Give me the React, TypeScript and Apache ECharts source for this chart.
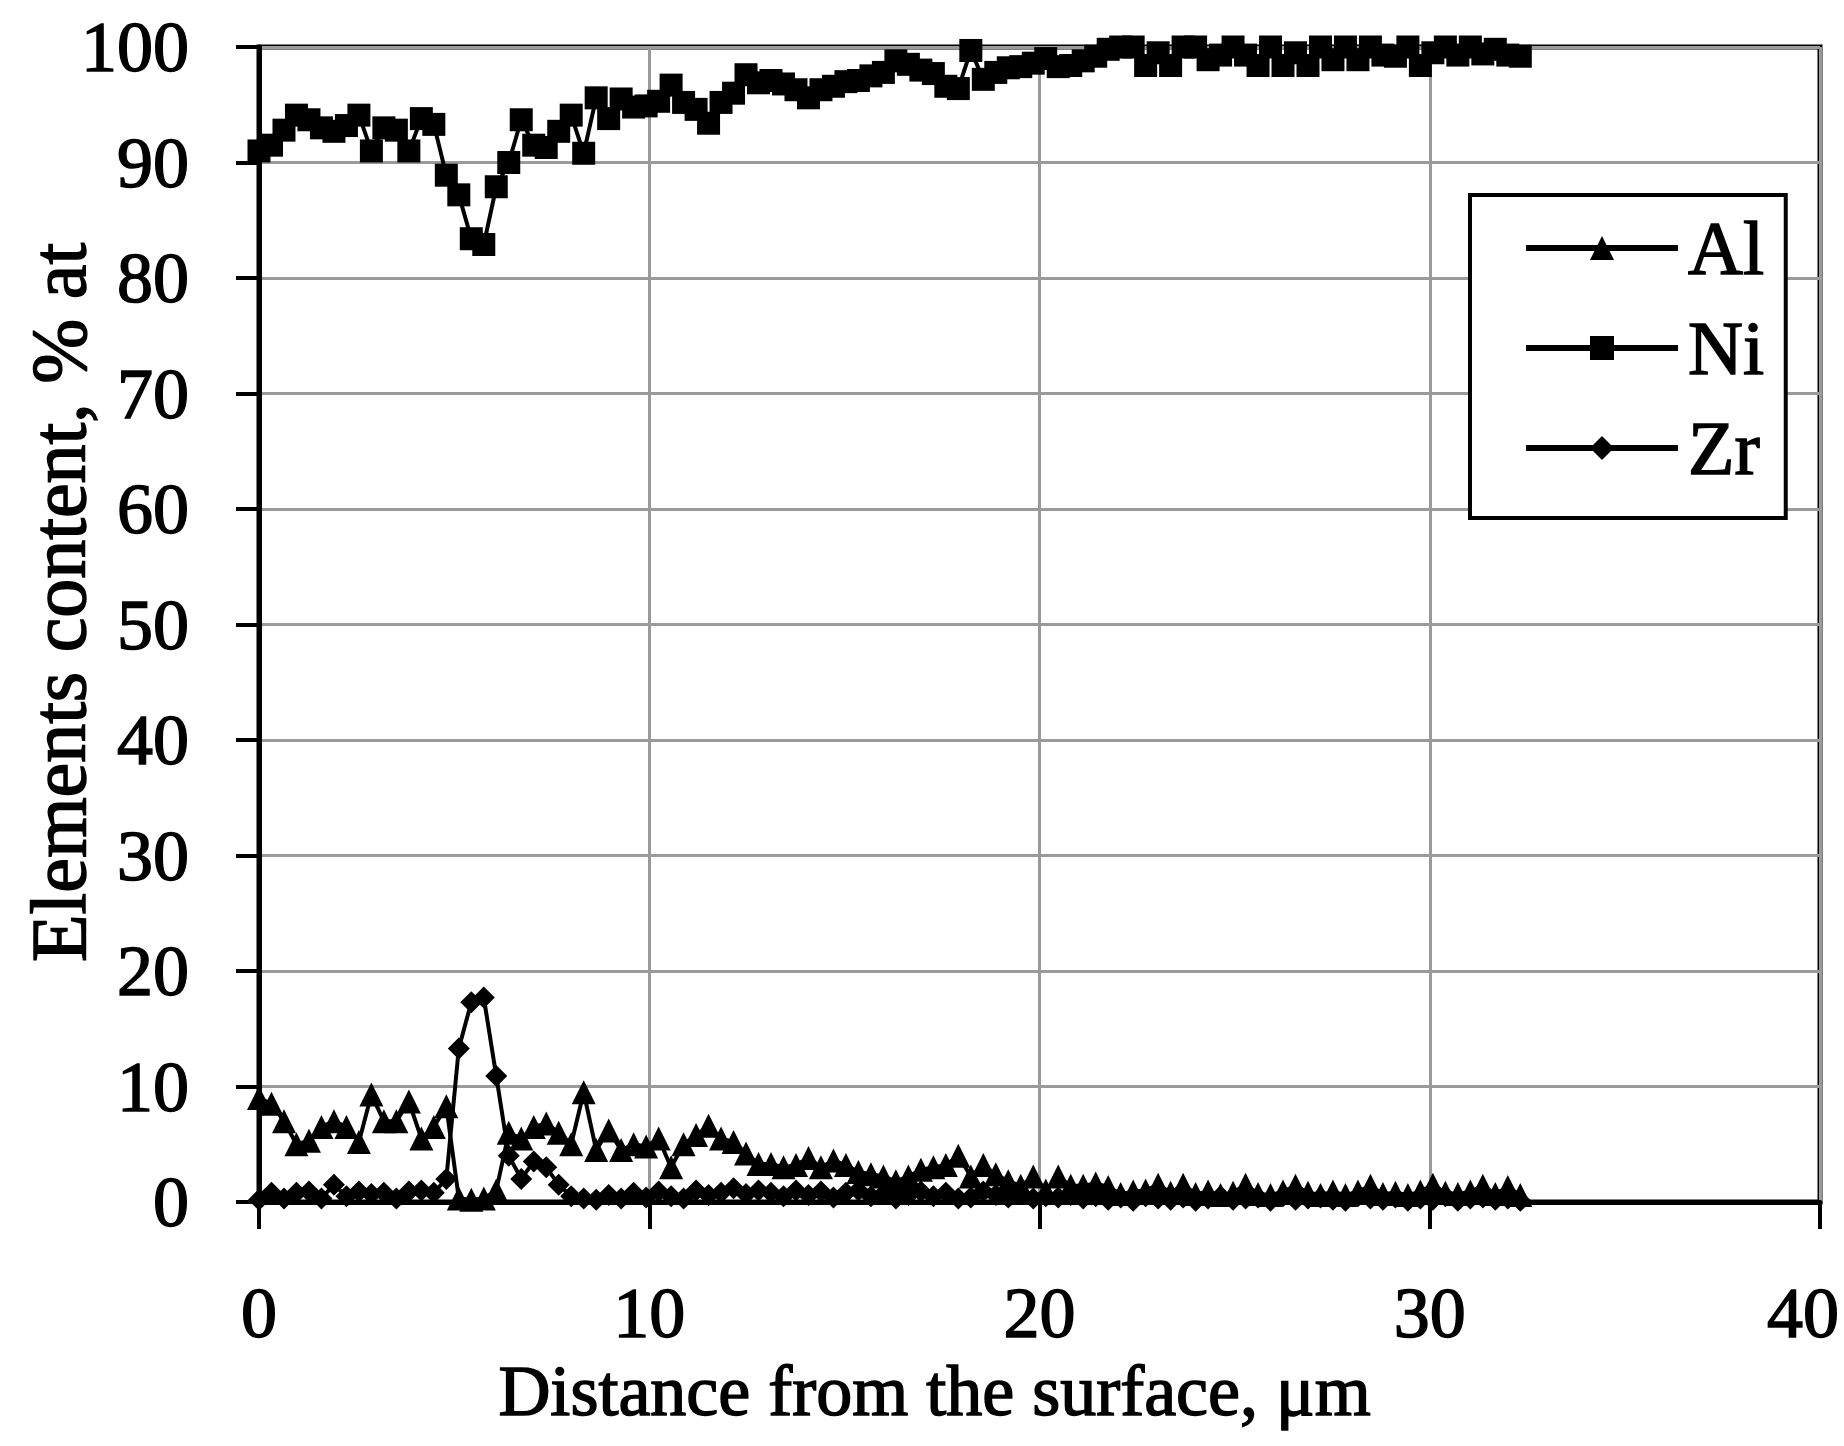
import React, { useEffect, useRef } from "react";
import * as echarts from "echarts";

// Distance from the surface, µm (scan step 0.32 µm)
const DISTANCE = [
  0, 0.32, 0.64, 0.96, 1.28, 1.6, 1.92, 2.24, 2.56, 2.88,
  3.2, 3.52, 3.84, 4.16, 4.48, 4.8, 5.12, 5.44, 5.76, 6.08,
  6.4, 6.72, 7.04, 7.36, 7.68, 8.0, 8.32, 8.64, 8.96, 9.28,
  9.6, 9.92, 10.24, 10.56, 10.88, 11.2, 11.52, 11.84, 12.16, 12.48,
  12.8, 13.12, 13.44, 13.76, 14.08, 14.4, 14.72, 15.04, 15.36, 15.68,
  16.0, 16.32, 16.64, 16.96, 17.28, 17.6, 17.92, 18.24, 18.56, 18.88,
  19.2, 19.52, 19.84, 20.16, 20.48, 20.8, 21.12, 21.44, 21.76, 22.08,
  22.4, 22.72, 23.04, 23.36, 23.68, 24.0, 24.32, 24.64, 24.96, 25.28,
  25.6, 25.92, 26.24, 26.56, 26.88, 27.2, 27.52, 27.84, 28.16, 28.48,
  28.8, 29.12, 29.44, 29.76, 30.08, 30.4, 30.72, 31.04, 31.36, 31.68,
  32.0, 32.32,
];

const AL = [
  9.0, 8.5, 7.0, 5.0, 5.3, 6.5, 7.0, 6.5, 5.2, 9.3,
  7.0, 7.0, 8.7, 5.5, 6.5, 8.3, 0.3, 0.2, 0.3, 1.0,
  6.0, 5.5, 6.5, 6.8, 6.0, 5.0, 9.5, 4.5, 6.2, 4.5,
  5.0, 4.8, 5.5, 3.0, 5.0, 5.8, 6.6, 5.5, 5.2, 4.2,
  3.3, 3.3, 3.0, 3.2, 3.8, 3.0, 3.6, 3.2, 2.6, 2.4,
  2.2, 1.8, 2.2, 2.8, 3.0, 3.2, 4.0, 2.2, 3.2, 2.4,
  1.8, 1.4, 2.2, 1.0, 2.2, 1.4, 1.4, 1.6, 1.3, 0.7,
  0.9, 1.0, 1.5, 0.8, 1.5, 0.7, 0.9, 0.6, 0.8, 1.5,
  0.7, 0.6, 0.9, 1.4, 0.8, 0.6, 0.9, 0.6, 0.9, 1.4,
  0.7, 0.8, 0.6, 0.9, 1.5, 0.8, 0.7, 0.9, 1.4, 0.7,
  1.3, 0.6,
];

const NI = [
  91.0, 91.5, 92.8, 94.1, 93.7, 93.0, 92.7, 93.2, 94.1, 91.0,
  93.0, 92.8, 91.0, 93.8, 93.3, 88.9, 87.2, 83.4, 82.9, 87.9,
  90.0, 93.7, 91.5, 91.3, 92.7, 94.1, 90.8, 95.6, 93.8, 95.5,
  94.8, 94.9, 95.3, 96.7, 95.2, 94.6, 93.4, 95.2, 96.0, 97.6,
  96.9, 97.1, 96.8, 96.3, 95.6, 96.3, 96.6, 97.0, 97.1, 97.5,
  97.8, 98.8, 98.5, 98.0, 97.7, 96.6, 96.4, 99.7, 97.2, 97.8,
  98.2, 98.3, 98.6, 99.0, 98.3, 98.4, 98.8, 99.2, 99.8, 100,
  100, 98.4, 99.5, 98.4, 100, 100, 98.9, 99.3, 100, 99.3,
  98.4, 100, 98.4, 99.5, 98.4, 100, 98.9, 100, 98.9, 100,
  99.3, 99.2, 100, 98.4, 99.5, 100, 99.3, 100, 99.4, 99.8,
  99.3, 99.2,
];

const ZR = [
  0.2, 0.8, 0.3, 0.8, 0.9, 0.3, 1.5, 0.5, 0.9, 0.7,
  0.8, 0.3, 0.9, 1.0, 0.8, 2.0, 13.3, 17.3, 17.7, 10.9,
  4.0, 2.0, 3.5, 3.0, 1.5, 0.5, 0.3, 0.2, 0.6, 0.3,
  0.8, 0.4, 0.9, 0.5, 0.3, 1.0, 0.6, 0.8, 1.2, 0.7,
  1.0, 0.8, 0.5, 1.0, 0.6, 0.9, 0.4, 0.8, 1.0, 0.5,
  0.7, 0.3, 0.6, 0.9, 0.5, 0.8, 0.3, 0.4, 0.9, 0.6,
  0.4, 0.7, 0.3, 0.5, 0.4, 0.6, 0.3, 0.5, 0.2, 0.4,
  0.1, 0.5, 0.3, 0.2, 0.4, 0.1, 0.3, 0.5, 0.2, 0.3,
  0.4, 0.1, 0.5, 0.2, 0.3, 0.4, 0.2, 0.1, 0.5, 0.3,
  0.2, 0.4, 0.1, 0.3, 0.2, 0.5, 0.1, 0.3, 0.4, 0.2,
  0.3, 0.1,
];

const SERIES_NAMES = ["Al", "Ni", "Zr"];
const SERIES_SYMBOLS = ["triangle", "rect", "diamond"];
const X_TITLE = "Distance from the surface, \u03bcm";
const Y_TITLE = "Elements content, % at";
const X_MAX = 40;

export default function App() {
  const ref = useRef<HTMLDivElement>(null);

  useEffect(() => {
    document.body.style.margin = "0";
    const chart = echarts.init(ref.current!, null, { renderer: "svg" });
    const font = "Liberation Serif";
    const values = [AL, NI, ZR];
    const sizes = [24, 23, 22];
    const heavy = { textBorderColor: "#000", textBorderWidth: 1.5 };
    const labelFont = { fontFamily: font, fontSize: 72, color: "#000", ...heavy };

    chart.setOption({
      animation: false,
      backgroundColor: "#ffffff",
      grid: {
        left: 259,
        right: 24,
        top: 47,
        bottom: 244,
        containLabel: false,
        outerBoundsMode: "none",
        show: true,
        borderColor: "#000",
        borderWidth: 5,
        backgroundColor: "transparent",
      },
      legend: {
        orient: "vertical",
        left: 1470,
        top: 195,
        padding: [13, 21, 30, 53],
        borderColor: "#000",
        borderWidth: 4,
        backgroundColor: "#fff",
        itemWidth: 152,
        itemHeight: 30,
        itemGap: 20,
        data: SERIES_NAMES,
        lineStyle: { width: 6, color: "#000" },
        textStyle: {
          fontFamily: font,
          fontSize: 76,
          lineHeight: 80,
          color: "#000",
          padding: [0, 0, 0, 5],
          ...heavy,
        },
      },
      xAxis: {
        type: "value",
        min: 0,
        max: X_MAX,
        interval: 10,
        name: X_TITLE,
        nameLocation: "middle",
        nameGap: 132,
        nameTextStyle: {
          fontFamily: font,
          fontSize: 72,
          color: "#000",
          padding: [0, 210, 0, 0],
          ...heavy,
        },
        axisLine: { show: true, lineStyle: { color: "#000", width: 5 } },
        axisTick: { show: true, length: 27, lineStyle: { color: "#000", width: 4 } },
        axisLabel: {
          ...labelFont,
          margin: 75,
          formatter: (v: number) => (v === X_MAX ? `{r|${v}}` : `${v}`),
          rich: { r: { ...labelFont, padding: [0, 34, 0, 0] } },
        },
        splitLine: { show: true, lineStyle: { color: "#9a9a9a", width: 3 } },
      },
      yAxis: {
        type: "value",
        min: 0,
        max: 100,
        interval: 10,
        name: Y_TITLE,
        nameLocation: "middle",
        nameGap: 162,
        nameMoveOverlap: false,
        nameTextStyle: {
          fontFamily: font,
          fontSize: 78,
          color: "#000",
          padding: [0, 0, 0, 44],
          ...heavy,
        },
        axisLine: { show: true, lineStyle: { color: "#000", width: 5 } },
        axisTick: { show: true, length: 23, lineStyle: { color: "#000", width: 4 } },
        axisLabel: { ...labelFont, margin: 70 },
        splitLine: { show: true, lineStyle: { color: "#9a9a9a", width: 3 } },
      },
      series: SERIES_NAMES.map((name, s) => ({
        name,
        type: "line",
        symbol: SERIES_SYMBOLS[s],
        symbolSize: sizes[s],
        showSymbol: true,
        clip: false,
        lineStyle: { color: "#000", width: 4 },
        itemStyle: { color: "#000" },
        data: DISTANCE.map((x, i) => [x, values[s][i]]),
      })),
    });

    return () => chart.dispose();
  }, []);

  return <div ref={ref} style={{ width: 1844, height: 1446 }} />;
}
